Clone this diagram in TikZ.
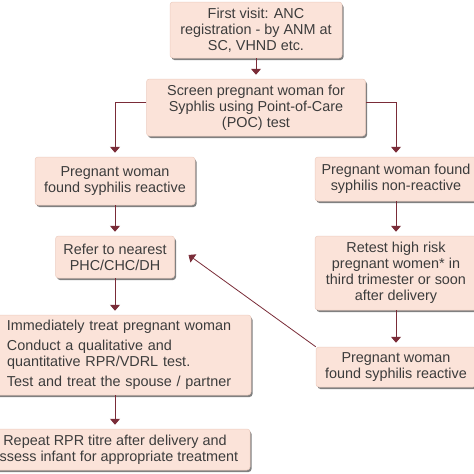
\documentclass[tikz,border=0pt]{standalone}
\usepackage{fontspec}
\setmainfont{Liberation Sans}
\usetikzlibrary{arrows.meta,shadows,calc}
\definecolor{boxfill}{HTML}{FBE3D9}
\definecolor{boxline}{HTML}{EDCDC0}
\definecolor{arr}{HTML}{7A2C38}
\definecolor{txt}{HTML}{3C3C3C}
\begin{document}
\begin{tikzpicture}[x=1pt,y=1pt,
  box/.style={rectangle, rounded corners=3pt, fill=boxfill, draw=boxline, line width=0.5pt,
    drop shadow={shadow xshift=1.5pt, shadow yshift=-2pt, fill=black!50, opacity=1},
    text=txt, align=center, inner sep=2pt,
    font=\fontsize{14.4}{16}\selectfont},
  conn/.style={draw=arr, line width=0.8pt, -{Triangle[width=10pt,length=6pt]}, shorten >=4pt}]
\clip (0,0) rectangle (474,-474);
\fill[white] (0,0) rectangle (474,-474);
\node[box, minimum width=172, minimum height=56] (B1) at (256,-30) {First visit: ANC\\registration - by ANM at\\SC, VHND etc.};
\node[box, minimum width=219, minimum height=57] (B2) at (256,-107.5) {Screen pregnant woman for\\Syphlis using Point-of-Care\\(POC) test};
\node[box, minimum width=160, minimum height=48] (L3) at (115,-181) {Pregnant woman\\found syphilis reactive};
\node[box, minimum width=162, minimum height=44] (R3) at (396,-179) {Pregnant woman found\\syphilis non-reactive};
\node[box, minimum width=119, minimum height=42] (L4) at (115,-257) {Refer to nearest\\PHC/CHC/DH};
\node[box, minimum width=162, minimum height=74] (R4) at (396,-273) {Retest high risk\\pregnant women* in\\third trimester or soon\\after delivery};
\node[box, minimum width=272, minimum height=80, text width=240, inner xsep=16pt, align=left] (L5) at (115,-355)
  {\makebox[12pt][l]{•}Immediately treat pregnant woman\\[4pt]
   \makebox[12pt][l]{•}Conduct a qualitative and\\
   \hspace*{12pt}quantitative RPR/VDRL test.\\[4pt]
   \makebox[12pt][l]{•}Test and treat the spouse / partner};
\node[box, minimum width=270, minimum height=41] (L6) at (115,-449.5) {Repeat RPR titre after delivery and\\assess infant for appropriate treatment};
\node[box, minimum width=160, minimum height=40] (R5) at (396,-367) {Pregnant woman\\found syphilis reactive};
\draw[conn] (B1.south) -- (B2.north);
\draw[conn] ([yshift=5pt]B2.west) -| (L3.north);
\draw[conn] ([yshift=5pt]B2.east) -| (R3.north);
\draw[conn] (L3.south) -- (L4.north);
\draw[conn] (R3.south) -- (R4.north);
\draw[conn] (L4.south) -- (L5.north);
\draw[conn] (L5.south) -- (L6.north);
\draw[conn] (R4.south) -- (R5.north);
\draw[conn, shorten >=17pt, shorten <=0pt] (R5.north west) -- ($(L4.east)+(0,12)$);
\end{tikzpicture}
\end{document}
